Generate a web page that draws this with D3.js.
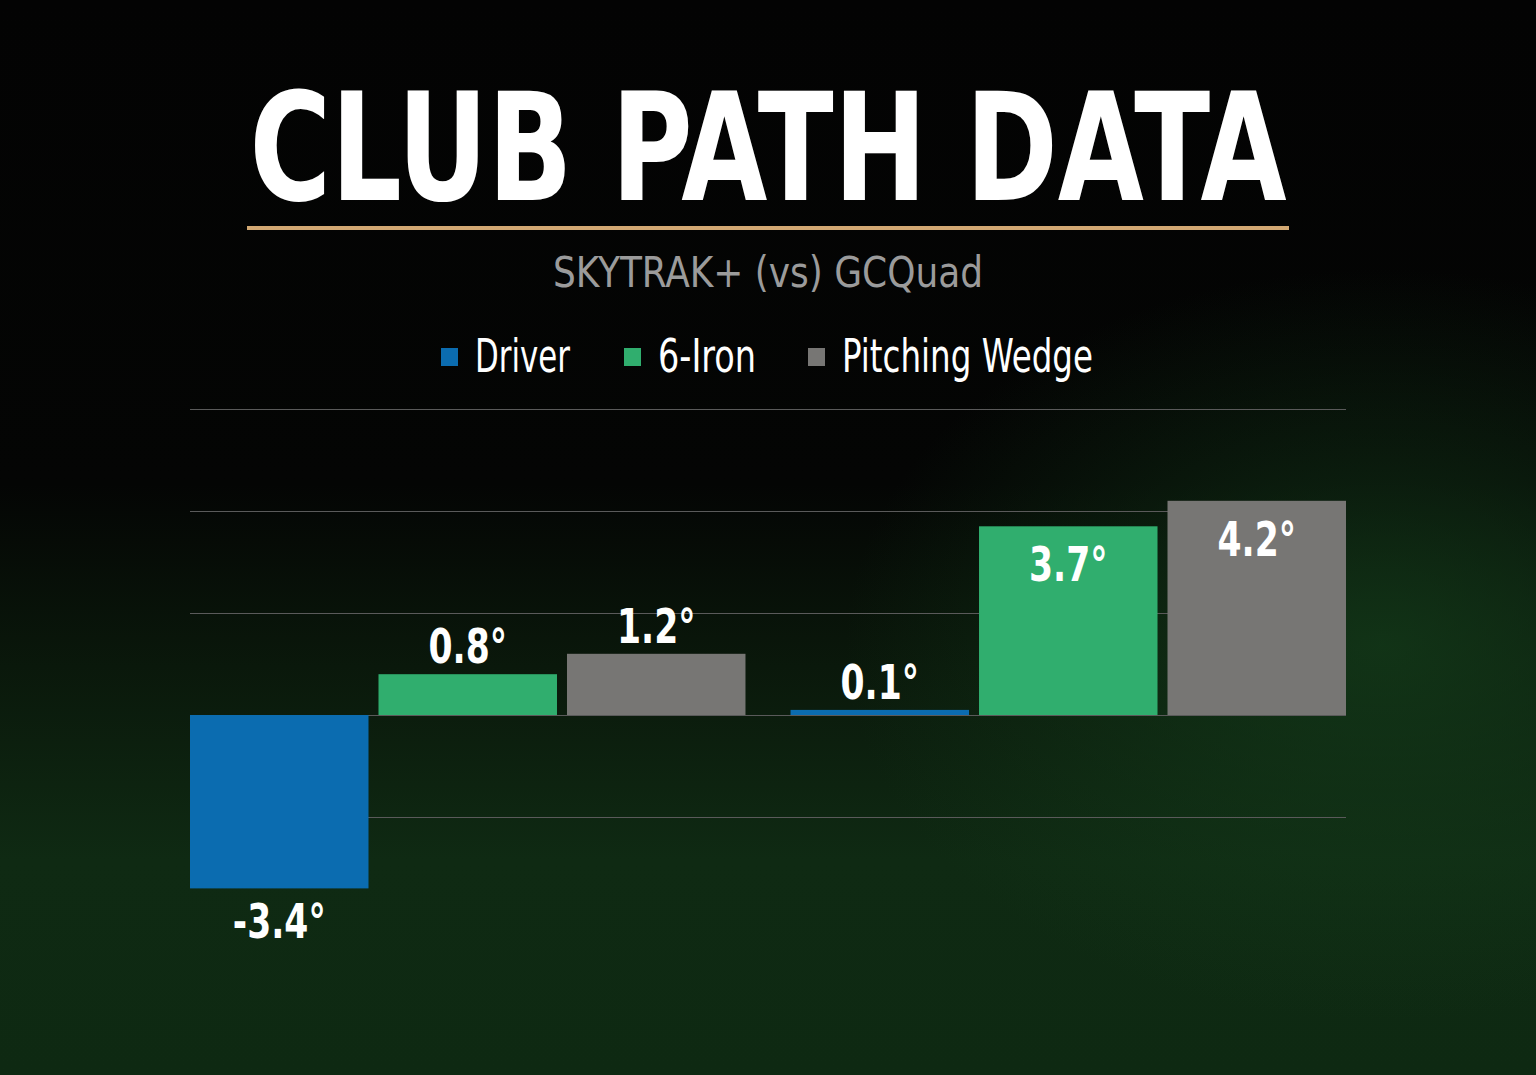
<!DOCTYPE html>
<html>
<head>
<meta charset="utf-8">
<script src="https://cdn.jsdelivr.net/npm/d3@7"></script>
<style>
  html, body { margin: 0; padding: 0; background: #030303; }
  svg { display: block; }
  text { font-family: 'DejaVu Sans Condensed', 'Liberation Sans Narrow', 'Roboto', sans-serif; }
</style>
</head>
<body>
<svg width="1536" height="1075"></svg>
<script>
const groups = ['SKYTRAK+', 'GCQuad']
const series = ['Driver', '6-Iron', 'Pitching Wedge']
const driverValues = [-3.4, 0.1]
const ironValues = [0.8, 3.7]
const wedgeValues = [1.2, 4.2]
const gridTicks = [-2, 0, 2, 4, 6]

const width = 1536
const height = 1075
const margin = { top: 409, right: 190, bottom: 156, left: 190 }
const colors = ['#0b6cb0', '#30ae6e', '#777674']

const values = [driverValues, ironValues, wedgeValues]
const data = []
groups.forEach((g, gi) => {
  series.forEach((s, si) => {
    data.push({ group: g, series: s, value: values[si][gi] })
  })
})

const svg = d3.select('svg')

// background: black on top, dark green turf lower down
const defs = svg.append('defs')
const bg = defs.append('linearGradient')
  .attr('id', 'bg')
  .attr('x1', 0).attr('y1', 0).attr('x2', 0).attr('y2', 1)
bg.append('stop').attr('offset', '0%').attr('stop-color', '#030303')
bg.append('stop').attr('offset', '45%').attr('stop-color', '#040504')
bg.append('stop').attr('offset', '62%').attr('stop-color', '#0a180b')
bg.append('stop').attr('offset', '80%').attr('stop-color', '#0f2a13')
bg.append('stop').attr('offset', '100%').attr('stop-color', '#0e2912')

const glow = defs.append('radialGradient')
  .attr('id', 'glow')
  .attr('cx', 0.9).attr('cy', 0.6).attr('r', 0.35)
glow.append('stop').attr('offset', '0%').attr('stop-color', '#15401c').attr('stop-opacity', 0.7)
glow.append('stop').attr('offset', '100%').attr('stop-color', '#15401c').attr('stop-opacity', 0)

svg.append('rect').attr('width', width).attr('height', height).attr('fill', 'url(#bg)')
svg.append('rect').attr('width', width).attr('height', height).attr('fill', 'url(#glow)')

// scales
const x0 = d3.scaleBand()
  .domain(groups)
  .range([margin.left, width - margin.right])
  .paddingInner(0.075)

const x1 = d3.scaleBand()
  .domain(series)
  .range([0, x0.bandwidth()])
  .paddingInner(0.053)

const y = d3.scaleLinear()
  .domain([-2, 6])
  .range([height - margin.bottom - 102, margin.top])

const color = d3.scaleOrdinal().domain(series).range(colors)

// title
svg.append('text')
  .attr('x', width / 2)
  .attr('y', 200)
  .attr('text-anchor', 'middle')
  .attr('textLength', 1037)
  .attr('lengthAdjust', 'spacingAndGlyphs')
  .attr('font-size', 150)
  .attr('font-weight', 'bold')
  .attr('fill', '#fff')
  .text('CLUB PATH DATA')

svg.append('rect')
  .attr('x', 247).attr('y', 226)
  .attr('width', 1042).attr('height', 4)
  .attr('fill', '#d2a873')

svg.append('text')
  .attr('x', width / 2)
  .attr('y', 287)
  .attr('text-anchor', 'middle')
  .attr('textLength', 430)
  .attr('lengthAdjust', 'spacingAndGlyphs')
  .attr('font-size', 42)
  .attr('fill', '#9b9b9b')
  .text(`${groups[0]} (vs) ${groups[1]}`)

// legend
const legendX = [441, 624, 808]
const legendW = [95, 98, 251]
const legend = svg.append('g')
  .selectAll('g')
  .data(series)
  .enter().append('g')
  .attr('transform', (d, i) => `translate(${legendX[i]}, 348)`)

legend.append('rect')
  .attr('width', 17).attr('height', 18)
  .attr('fill', d => color(d))

legend.append('text')
  .attr('x', 34)
  .attr('y', 24)
  .attr('font-size', 46)
  .attr('textLength', (d, i) => legendW[i])
  .attr('lengthAdjust', 'spacingAndGlyphs')
  .attr('fill', '#fff')
  .text(d => d)

// gridlines
const yAxis = d3.axisLeft(y)
  .tickValues(gridTicks)
  .tickSize(-(width - margin.left - margin.right))
  .tickFormat('')

svg.append('g')
  .attr('transform', `translate(${margin.left}, 0)`)
  .call(yAxis)
  .call(g => g.select('.domain').remove())
  .call(g => g.selectAll('line').attr('stroke', '#5a5a5a').attr('stroke-width', 1.2))

// bars
svg.append('g')
  .selectAll('rect')
  .data(data)
  .enter().append('rect')
  .attr('x', d => x0(d.group) + x1(d.series))
  .attr('width', x1.bandwidth())
  .attr('y', d => y(Math.max(0, d.value)))
  .attr('height', d => Math.abs(y(d.value) - y(0)))
  .attr('fill', d => color(d.series))

// value labels (narrowed to look like a condensed face)
svg.append('g')
  .selectAll('text')
  .data(data)
  .enter().append('text')
  .attr('transform', d => {
    const cx = x0(d.group) + x1(d.series) + x1.bandwidth() / 2
    let cy = y(d.value) - 11
    if (d.value < 0) cy = y(d.value) + 50
    else if (d.value > 3) cy = y(d.value) + 55
    return `translate(${cx}, ${cy}) scale(0.8, 1)`
  })
  .attr('text-anchor', 'middle')
  .attr('font-size', 48)
  .attr('font-weight', 'bold')
  .attr('fill', '#fff')
  .text(d => `${d.value}°`)
</script>
</body>
</html>
